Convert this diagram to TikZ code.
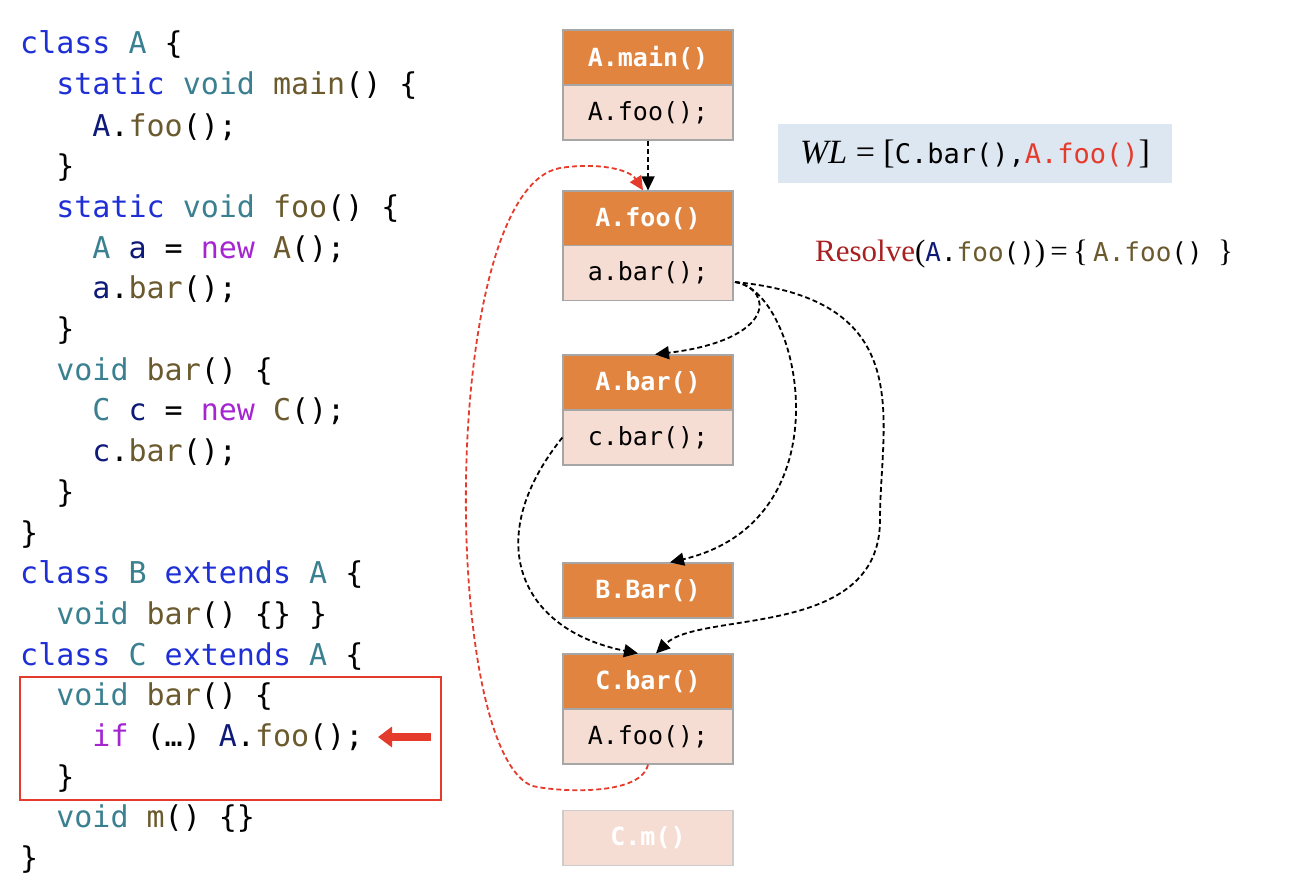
\documentclass[tikz,border=0pt]{standalone}
\usepackage{fontspec}
\setmonofont{DejaVu Sans Mono}
\setmainfont{Liberation Serif}
\usetikzlibrary{arrows.meta}
\definecolor{kw}{HTML}{1F2FD6}
\definecolor{ty}{HTML}{3A8090}
\definecolor{fn}{HTML}{6B5A2E}
\definecolor{va}{HTML}{0E1A78}
\definecolor{nw}{HTML}{A526D0}
\definecolor{hd}{HTML}{E08440}
\definecolor{bd}{HTML}{F6DDD3}
\definecolor{rd}{HTML}{E53B2C}
\definecolor{wl}{HTML}{DDE7F1}
\definecolor{rs}{HTML}{A82020}
\newcommand{\K}[1]{\textcolor{kw}{#1}}
\newcommand{\T}[1]{\textcolor{ty}{#1}}
\newcommand{\F}[1]{\textcolor{fn}{#1}}
\newcommand{\V}[1]{\textcolor{va}{#1}}
\newcommand{\N}[1]{\textcolor{nw}{#1}}
\begin{document}
\begin{tikzpicture}[x=1pt,y=-1pt,
  code/.style={anchor=base west,inner sep=0,font=\fontsize{30}{32}\ttfamily},
  hdr/.style={draw=gray!70,line width=1.2,fill=hd,minimum width=170,minimum height=55,inner sep=0,font=\fontsize{25}{27}\ttfamily\bfseries,text=white},
  bdy/.style={draw=gray!70,line width=1.2,fill=bd,minimum width=170,minimum height=55,inner sep=0,font=\fontsize{25}{27}\ttfamily},
  arr/.style={dash pattern=on 5pt off 3pt,line width=1.8,-{Triangle[length=14,width=13]}},
  rarr/.style={dash pattern=on 5pt off 3pt,line width=1.8,draw=rd,-{Triangle[length=14,width=13,fill=rd]}}]
\useasboundingbox (0,0) rectangle (1290,888);
% code
\node[code] (l1) at (20,54) {\K{class} \T{A} \{};
\node[code] (l2) at (20,95) {\ \ \K{static} \T{void} \F{main}() \{};
\node[code] (l3) at (20,136) {\ \ \ \ \V{A}.\F{foo}();};
\node[code] (l4) at (20,176) {\ \ \}};
\node[code] (l5) at (20,217) {\ \ \K{static} \T{void} \F{foo}() \{};
\node[code] (l6) at (20,258) {\ \ \ \ \T{A} \V{a} = \N{new} \F{A}();};
\node[code] (l7) at (20,298) {\ \ \ \ \V{a}.\F{bar}();};
\node[code] (l8) at (20,339) {\ \ \}};
\node[code] (l9) at (20,380) {\ \ \T{void} \F{bar}() \{};
\node[code] (l10) at (20,420) {\ \ \ \ \T{C} \V{c} = \N{new} \F{C}();};
\node[code] (l11) at (20,461) {\ \ \ \ \V{c}.\F{bar}();};
\node[code] (l12) at (20,502) {\ \ \}};
\node[code] (l13) at (20,543) {\}};
\node[code] (l14) at (20,583) {\K{class} \T{B} \K{extends} \T{A} \{};
\node[code] (l15) at (20,624) {\ \ \T{void} \F{bar}() \{\} \}};
\node[code] (l16) at (20,665) {\K{class} \T{C} \K{extends} \T{A} \{};
\node[code] (l17) at (20,705) {\ \ \T{void} \F{bar}() \{};
\node[code] (l18) at (20,746) {\ \ \ \ \N{if} (…) \V{A}.\F{foo}();};
\node[code] (l19) at (20,787) {\ \ \}};
\node[code] (l20) at (20,827) {\ \ \T{void} \F{m}() \{\}};
\node[code] (l21) at (20,868) {\}};
\draw[rd,line width=1.8] (20,677) rectangle (441,800);
\coordinate (ra) at (431,737);
\coordinate (rb) at (378,737);
\draw[rd,line width=8,-{Triangle[length=14,width=20]}] (ra) -- (rb);
% boxes
\node[hdr] (mainh) at (648,57.5) {A.main()};
\node[bdy] (mainb) at (648,112.5) {A.foo();};
\node[hdr] (fooh) at (648,218.5) {A.foo()};
\node[bdy] (foob) at (648,273) {a.bar();};
\node[hdr] (barh) at (648,382.5) {A.bar()};
\node[bdy] (barb) at (648,437.5) {c.bar();};
\node[hdr] (bbar) at (648,590.5) {B.Bar()};
\node[hdr] (cbarh) at (648,681.5) {C.bar()};
\node[bdy] (cbarb) at (648,736.5) {A.foo();};
\node[hdr,fill=bd,draw=gray!40] (cm) at (648,838) {C.m()};
% arrows
\draw[arr] (mainb.south) -- (fooh.north);
\coordinate (s1) at (735,282);
\draw[arr] (s1) .. controls (775,290) and (775,340) .. ([xshift=7]barh.north);
\draw[arr] (s1) .. controls (800,290) and (850,520) .. ([xshift=22]bbar.north);
\draw[arr] (s1) .. controls (920,300) and (880,420) .. (880,520) .. controls (880,640) and (700,610) .. ([xshift=8]cbarh.north);
\draw[arr] (barb.west) .. controls (480,540) and (520,630) .. ([xshift=-10]cbarh.north);
\draw[rarr] (cbarb.south) .. controls (640,800) and (540,790) .. (530,785) .. controls (440,740) and (440,190) .. (560,168) .. controls (600,162) and (630,170) .. ([xshift=-5]fooh.north);
% WL
\node[fill=wl,minimum width=394,minimum height=59,inner sep=0] (wlbox) at (975,153.5) {\fontsize{34}{36}\selectfont\textit{WL} = [\texttt{\fontsize{27}{29}\selectfont C.bar(),\textcolor{rd}{A.foo()}}]};
\node[anchor=base west,inner sep=0,font=\fontsize{31}{33}\selectfont] (res) at (815,261) {\textcolor{rs}{Resolve}(\texttt{\fontsize{26}{28}\selectfont\V{A}.\F{foo}()})\,=\,\{\,\texttt{\fontsize{26}{28}\selectfont\F{A.foo}()}\ \ \}};
\end{tikzpicture}
\end{document}
